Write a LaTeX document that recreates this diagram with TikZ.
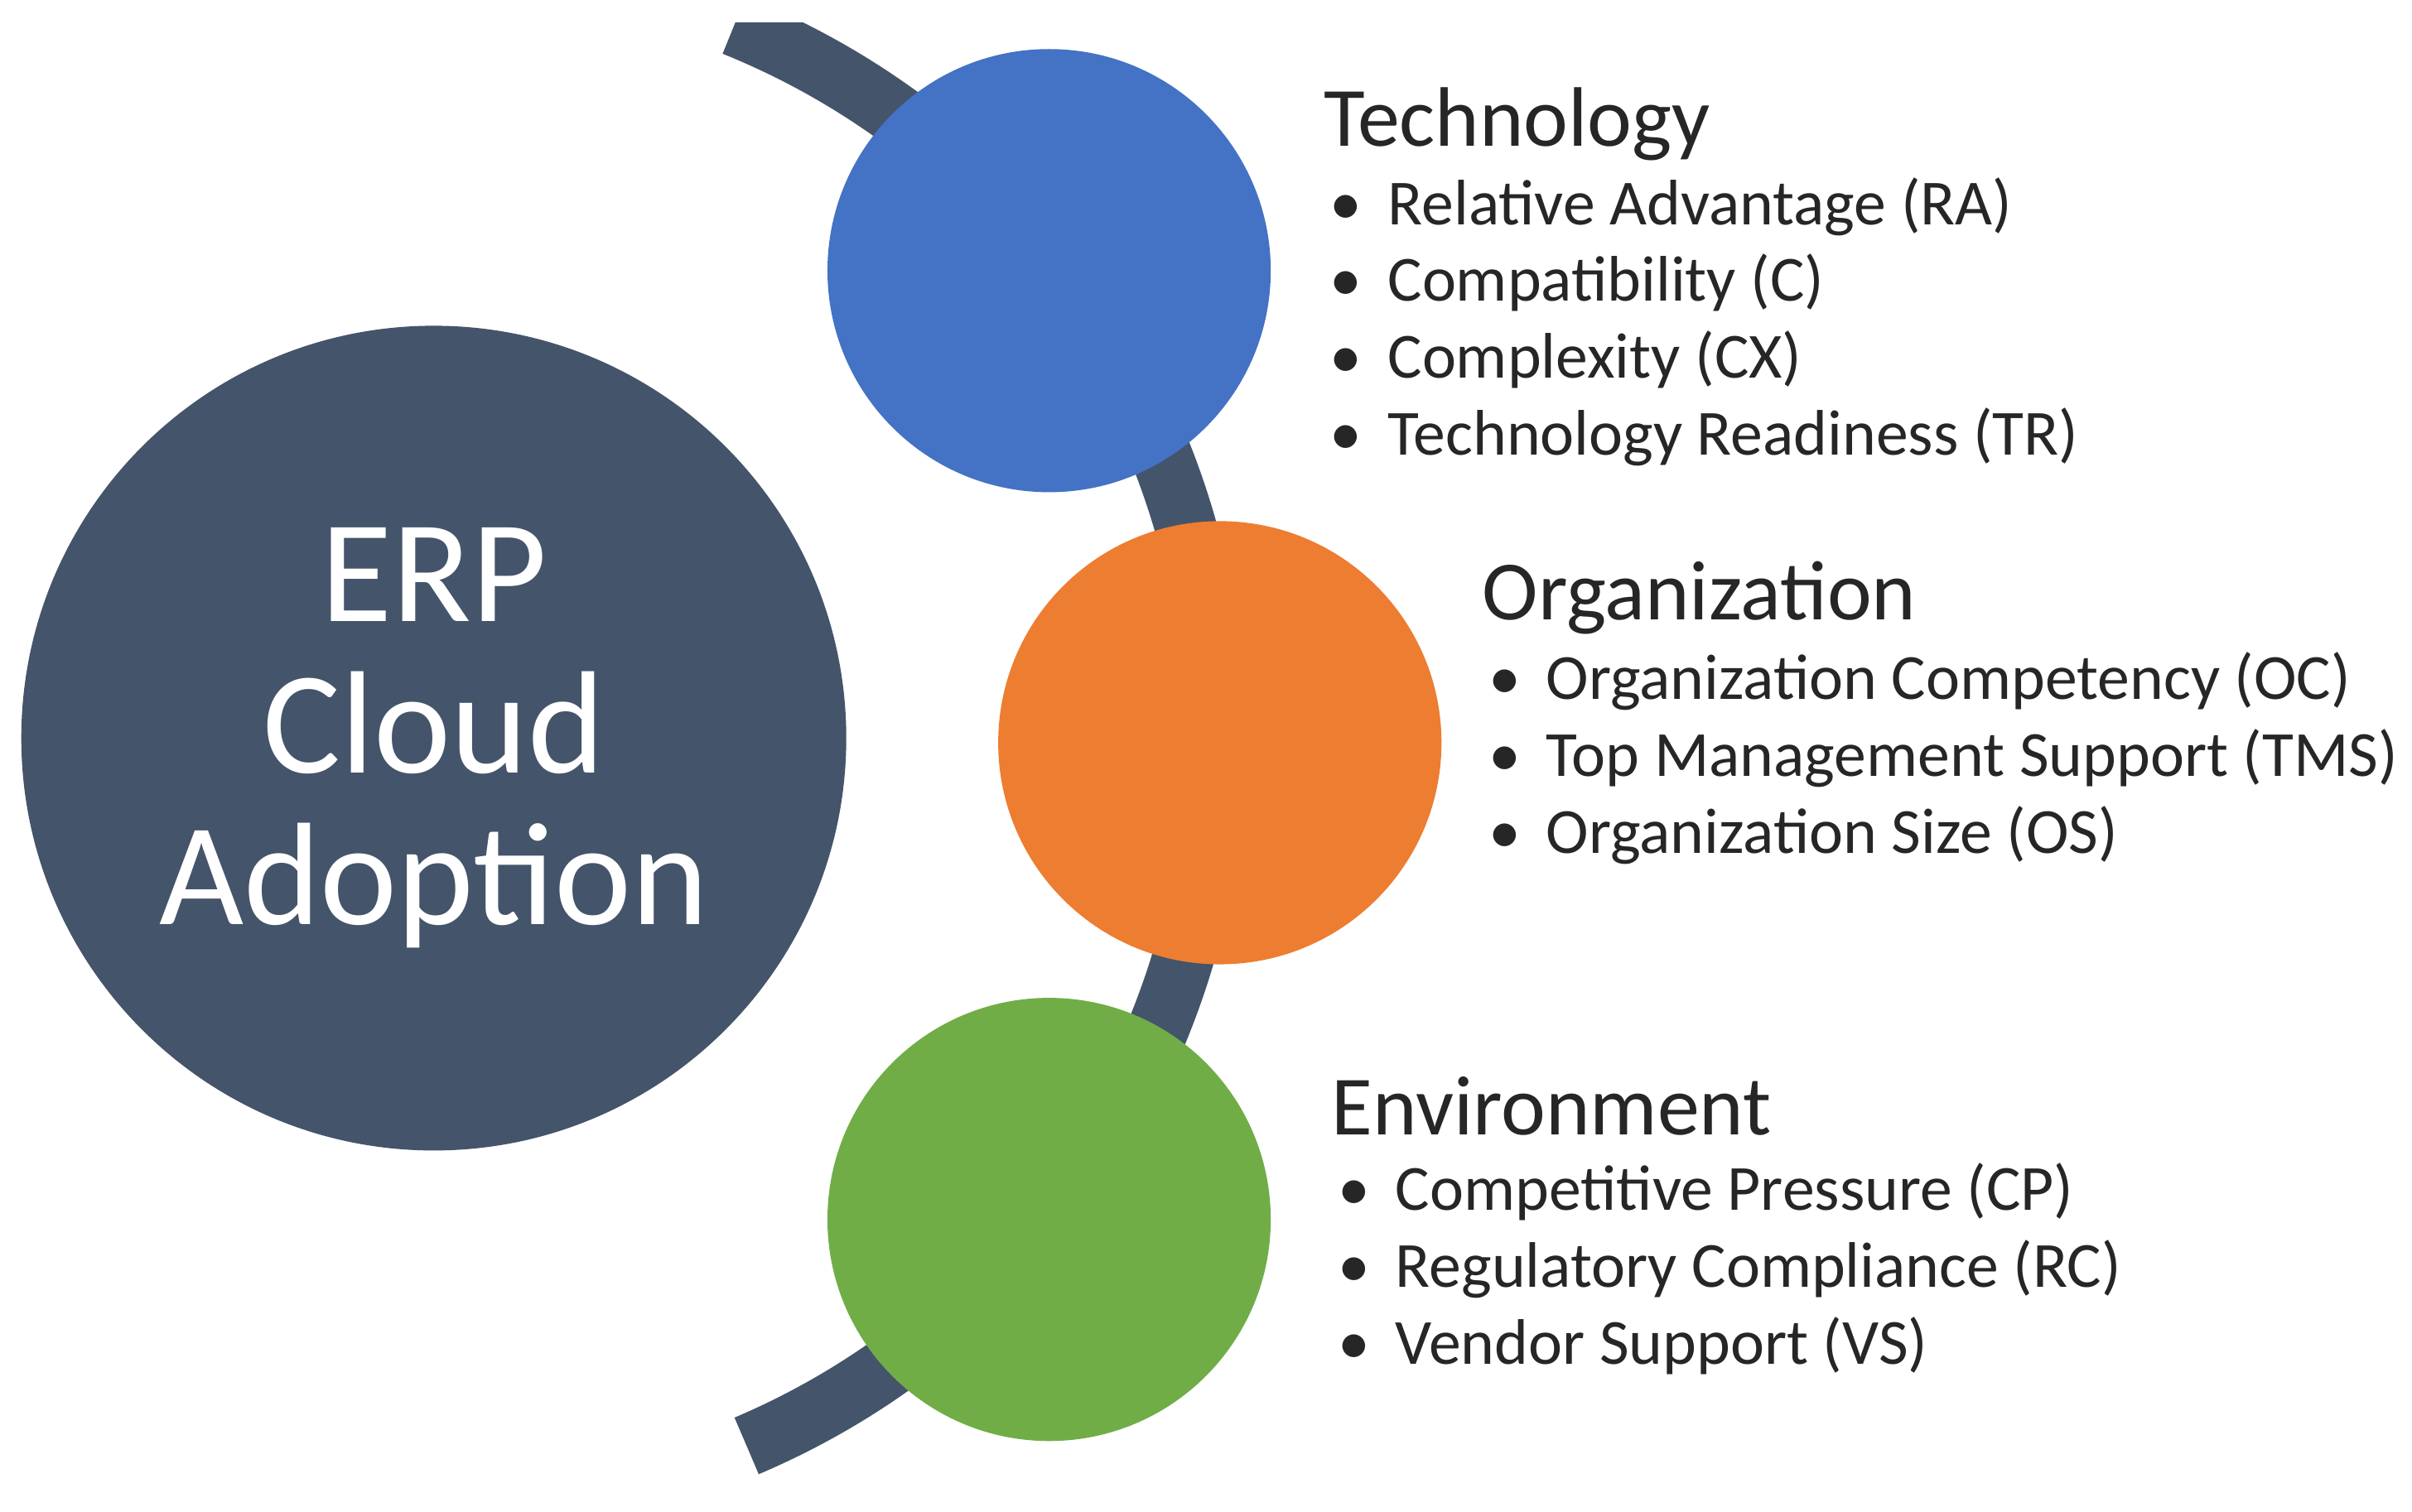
\documentclass[tikz,border=0pt]{standalone}
\usepackage{fontspec}
\setmainfont{Carlito}
\definecolor{dk}{HTML}{44546A}
\definecolor{bl}{HTML}{4472C4}
\definecolor{or}{HTML}{ED7D31}
\definecolor{gr}{HTML}{70AD47}
\definecolor{tx}{HTML}{262626}
\begin{document}
\begin{tikzpicture}[x=0.01cm,y=-0.01cm,
  ball/.style={circle,minimum size=2.88cm,inner sep=0pt},
  head/.style={anchor=base west,font=\fontsize{15.6}{17}\selectfont,text=tx,inner sep=0pt},
  item/.style={anchor=base west,font=\fontsize{11.9}{14}\selectfont,text=tx,inner sep=0pt}]
\fill[white] (0,0) rectangle (1568,983);
\useasboundingbox (0,0) rectangle (1568,983);
\begin{scope}
\clip (0,15) rectangle (1568,983);
\draw[dk,line width=0.4cm] (290,480) ++(-68:500) arc[start angle=-68,end angle=67,radius=500];
\end{scope}
\node[ball,fill=dk,minimum size=5.36cm,align=center,text=white,font=\fontsize{27}{28}\selectfont] (erp) at (282,480) {ERP\\Cloud\\Adoption};
\node[ball,fill=bl] (t) at (682,176) {};
\node[ball,fill=or] (o) at (793,483) {};
\node[ball,fill=gr] (e) at (682,793) {};
\node[head] (th) at (860,95) {Technology};
\foreach \s [count=\i] in {Relative Advantage (RA),Compatibility (C),Complexity (CX),Technology Readiness (TR)}
  \node[item] (t\i) at (864,146+50*\i-50) {\textbullet\hspace{0.4em}\s};
\node[head] (oh) at (963,403) {Organization};
\foreach \s [count=\i] in {Organization Competency (OC),Top Management Support (TMS),Organization Size (OS)}
  \node[item] (o\i) at (967,455+50*\i-50) {\textbullet\hspace{0.4em}\s};
\node[head] (eh) at (865,738) {Environment};
\foreach \s [count=\i] in {Competitive Pressure (CP),Regulatory Compliance (RC),Vendor Support (VS)}
  \node[item] (e\i) at (869,787+50*\i-50) {\textbullet\hspace{0.4em}\s};
\end{tikzpicture}
\end{document}
